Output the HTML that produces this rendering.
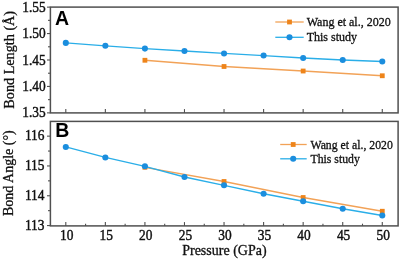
<!DOCTYPE html>
<html><head><meta charset="utf-8"><style>
html,body{margin:0;padding:0;background:#fff;width:400px;height:259px;overflow:hidden}
svg{display:block;filter:blur(0.3px)}
.t{font-family:"Liberation Serif",serif;font-size:13.4px;fill:#111;stroke:#111;stroke-width:0.4px}
.lg{font-family:"Liberation Serif",serif;fill:#111;stroke:#111;stroke-width:0.3px}
.ti{font-family:"Liberation Serif",serif;font-size:14px;fill:#111;stroke:#111;stroke-width:0.3px}
.pl{font-family:"Liberation Sans",sans-serif;font-weight:bold;font-size:19.5px;fill:#000}
</style></head><body>
<svg width="400" height="259" viewBox="0 0 400 259">
<rect width="400" height="259" fill="#fff"/>
<rect x="50.4" y="7.1" width="347.70000000000005" height="105.80000000000001" fill="none" stroke="#505050" stroke-width="1.5"/>
<rect x="50.4" y="121.4" width="347.70000000000005" height="104.5" fill="none" stroke="#505050" stroke-width="1.5"/>
<line x1="65.80" y1="112.9" x2="65.80" y2="109.10000000000001" stroke="#505050" stroke-width="1.1"/>
<line x1="65.80" y1="225.9" x2="65.80" y2="222.1" stroke="#505050" stroke-width="1.1"/>
<text transform="translate(66.70,240.4) scale(1,1.12)" class="t" text-anchor="middle">10</text>
<line x1="105.36" y1="112.9" x2="105.36" y2="109.10000000000001" stroke="#505050" stroke-width="1.1"/>
<line x1="105.36" y1="225.9" x2="105.36" y2="222.1" stroke="#505050" stroke-width="1.1"/>
<text transform="translate(106.26,240.4) scale(1,1.12)" class="t" text-anchor="middle">15</text>
<line x1="144.92" y1="112.9" x2="144.92" y2="109.10000000000001" stroke="#505050" stroke-width="1.1"/>
<line x1="144.92" y1="225.9" x2="144.92" y2="222.1" stroke="#505050" stroke-width="1.1"/>
<text transform="translate(145.82,240.4) scale(1,1.12)" class="t" text-anchor="middle">20</text>
<line x1="184.48" y1="112.9" x2="184.48" y2="109.10000000000001" stroke="#505050" stroke-width="1.1"/>
<line x1="184.48" y1="225.9" x2="184.48" y2="222.1" stroke="#505050" stroke-width="1.1"/>
<text transform="translate(185.38,240.4) scale(1,1.12)" class="t" text-anchor="middle">25</text>
<line x1="224.04" y1="112.9" x2="224.04" y2="109.10000000000001" stroke="#505050" stroke-width="1.1"/>
<line x1="224.04" y1="225.9" x2="224.04" y2="222.1" stroke="#505050" stroke-width="1.1"/>
<text transform="translate(224.94,240.4) scale(1,1.12)" class="t" text-anchor="middle">30</text>
<line x1="263.60" y1="112.9" x2="263.60" y2="109.10000000000001" stroke="#505050" stroke-width="1.1"/>
<line x1="263.60" y1="225.9" x2="263.60" y2="222.1" stroke="#505050" stroke-width="1.1"/>
<text transform="translate(264.50,240.4) scale(1,1.12)" class="t" text-anchor="middle">35</text>
<line x1="303.16" y1="112.9" x2="303.16" y2="109.10000000000001" stroke="#505050" stroke-width="1.1"/>
<line x1="303.16" y1="225.9" x2="303.16" y2="222.1" stroke="#505050" stroke-width="1.1"/>
<text transform="translate(304.06,240.4) scale(1,1.12)" class="t" text-anchor="middle">40</text>
<line x1="342.72" y1="112.9" x2="342.72" y2="109.10000000000001" stroke="#505050" stroke-width="1.1"/>
<line x1="342.72" y1="225.9" x2="342.72" y2="222.1" stroke="#505050" stroke-width="1.1"/>
<text transform="translate(343.62,240.4) scale(1,1.12)" class="t" text-anchor="middle">45</text>
<line x1="382.28" y1="112.9" x2="382.28" y2="109.10000000000001" stroke="#505050" stroke-width="1.1"/>
<line x1="382.28" y1="225.9" x2="382.28" y2="222.1" stroke="#505050" stroke-width="1.1"/>
<text transform="translate(383.18,240.4) scale(1,1.12)" class="t" text-anchor="middle">50</text>
<line x1="85.58" y1="225.9" x2="85.58" y2="223.70000000000002" stroke="#505050" stroke-width="1.1"/>
<line x1="125.14" y1="225.9" x2="125.14" y2="223.70000000000002" stroke="#505050" stroke-width="1.1"/>
<line x1="164.70" y1="225.9" x2="164.70" y2="223.70000000000002" stroke="#505050" stroke-width="1.1"/>
<line x1="204.26" y1="225.9" x2="204.26" y2="223.70000000000002" stroke="#505050" stroke-width="1.1"/>
<line x1="243.82" y1="225.9" x2="243.82" y2="223.70000000000002" stroke="#505050" stroke-width="1.1"/>
<line x1="283.38" y1="225.9" x2="283.38" y2="223.70000000000002" stroke="#505050" stroke-width="1.1"/>
<line x1="322.94" y1="225.9" x2="322.94" y2="223.70000000000002" stroke="#505050" stroke-width="1.1"/>
<line x1="362.50" y1="225.9" x2="362.50" y2="223.70000000000002" stroke="#505050" stroke-width="1.1"/>
<line x1="50.4" y1="112.86" x2="47.0" y2="112.86" stroke="#505050" stroke-width="1.1"/>
<text transform="translate(45.7,117.46) scale(1,1.12)" class="t" text-anchor="end">1.35</text>
<line x1="50.4" y1="86.43" x2="47.0" y2="86.43" stroke="#505050" stroke-width="1.1"/>
<text transform="translate(45.7,91.03) scale(1,1.12)" class="t" text-anchor="end">1.40</text>
<line x1="50.4" y1="60.00" x2="47.0" y2="60.00" stroke="#505050" stroke-width="1.1"/>
<text transform="translate(45.7,64.60) scale(1,1.12)" class="t" text-anchor="end">1.45</text>
<line x1="50.4" y1="33.57" x2="47.0" y2="33.57" stroke="#505050" stroke-width="1.1"/>
<text transform="translate(45.7,38.17) scale(1,1.12)" class="t" text-anchor="end">1.50</text>
<line x1="50.4" y1="7.14" x2="47.0" y2="7.14" stroke="#505050" stroke-width="1.1"/>
<text transform="translate(45.7,11.74) scale(1,1.12)" class="t" text-anchor="end">1.55</text>
<line x1="50.4" y1="99.65" x2="48.0" y2="99.65" stroke="#505050" stroke-width="1.1"/>
<line x1="50.4" y1="73.22" x2="48.0" y2="73.22" stroke="#505050" stroke-width="1.1"/>
<line x1="50.4" y1="46.79" x2="48.0" y2="46.79" stroke="#505050" stroke-width="1.1"/>
<line x1="50.4" y1="20.35" x2="48.0" y2="20.35" stroke="#505050" stroke-width="1.1"/>
<line x1="50.4" y1="225.56" x2="47.0" y2="225.56" stroke="#505050" stroke-width="1.1"/>
<text transform="translate(44.5,229.66) scale(1,1.12)" class="t" text-anchor="end">113</text>
<line x1="50.4" y1="195.76" x2="47.0" y2="195.76" stroke="#505050" stroke-width="1.1"/>
<text transform="translate(44.5,199.86) scale(1,1.12)" class="t" text-anchor="end">114</text>
<line x1="50.4" y1="165.95" x2="47.0" y2="165.95" stroke="#505050" stroke-width="1.1"/>
<text transform="translate(44.5,170.05) scale(1,1.12)" class="t" text-anchor="end">115</text>
<line x1="50.4" y1="136.15" x2="47.0" y2="136.15" stroke="#505050" stroke-width="1.1"/>
<text transform="translate(44.5,140.25) scale(1,1.12)" class="t" text-anchor="end">116</text>
<line x1="50.4" y1="210.66" x2="48.0" y2="210.66" stroke="#505050" stroke-width="1.1"/>
<line x1="50.4" y1="180.85" x2="48.0" y2="180.85" stroke="#505050" stroke-width="1.1"/>
<line x1="50.4" y1="151.05" x2="48.0" y2="151.05" stroke="#505050" stroke-width="1.1"/>
<polyline points="144.92,60.27 224.04,66.49 303.16,71.02 382.28,75.76" fill="none" stroke="#f2a257" stroke-width="1.3"/>
<rect x="142.52" y="57.87" width="4.8" height="4.8" fill="#ee841a"/>
<rect x="221.64" y="64.09" width="4.8" height="4.8" fill="#ee841a"/>
<rect x="300.76" y="68.62" width="4.8" height="4.8" fill="#ee841a"/>
<rect x="379.88" y="73.36" width="4.8" height="4.8" fill="#ee841a"/>
<polyline points="65.80,42.88 105.36,45.78 144.92,48.62 184.48,50.99 224.04,53.47 263.60,55.53 303.16,58.00 342.72,60.01 382.28,61.48" fill="none" stroke="#2aaee8" stroke-width="1.3"/>
<circle cx="65.80" cy="42.88" r="3.05" fill="#1b8ede"/>
<circle cx="105.36" cy="45.78" r="3.05" fill="#1b8ede"/>
<circle cx="144.92" cy="48.62" r="3.05" fill="#1b8ede"/>
<circle cx="184.48" cy="50.99" r="3.05" fill="#1b8ede"/>
<circle cx="224.04" cy="53.47" r="3.05" fill="#1b8ede"/>
<circle cx="263.60" cy="55.53" r="3.05" fill="#1b8ede"/>
<circle cx="303.16" cy="58.00" r="3.05" fill="#1b8ede"/>
<circle cx="342.72" cy="60.01" r="3.05" fill="#1b8ede"/>
<circle cx="382.28" cy="61.48" r="3.05" fill="#1b8ede"/>
<polyline points="144.92,167.29 224.04,181.50 303.16,197.51 382.28,211.25" fill="none" stroke="#f2a257" stroke-width="1.3"/>
<rect x="142.52" y="164.89" width="4.8" height="4.8" fill="#ee841a"/>
<rect x="221.64" y="179.10" width="4.8" height="4.8" fill="#ee841a"/>
<rect x="300.76" y="195.11" width="4.8" height="4.8" fill="#ee841a"/>
<rect x="379.88" y="208.85" width="4.8" height="4.8" fill="#ee841a"/>
<polyline points="65.80,146.99 105.36,157.49 144.92,166.26 184.48,177.00 224.04,185.29 263.60,193.75 303.16,201.24 342.72,208.76 382.28,215.51" fill="none" stroke="#2aaee8" stroke-width="1.3"/>
<circle cx="65.80" cy="146.99" r="3.05" fill="#1b8ede"/>
<circle cx="105.36" cy="157.49" r="3.05" fill="#1b8ede"/>
<circle cx="144.92" cy="166.26" r="3.05" fill="#1b8ede"/>
<circle cx="184.48" cy="177.00" r="3.05" fill="#1b8ede"/>
<circle cx="224.04" cy="185.29" r="3.05" fill="#1b8ede"/>
<circle cx="263.60" cy="193.75" r="3.05" fill="#1b8ede"/>
<circle cx="303.16" cy="201.24" r="3.05" fill="#1b8ede"/>
<circle cx="342.72" cy="208.76" r="3.05" fill="#1b8ede"/>
<circle cx="382.28" cy="215.51" r="3.05" fill="#1b8ede"/>
<line x1="275.3" y1="22" x2="303.7" y2="22" stroke="#f2a257" stroke-width="1.3"/>
<rect x="287.1" y="19.6" width="4.8" height="4.8" fill="#ee841a"/>
<text x="306.7" y="26.1" class="lg" style="font-size:12px">Wang et al., 2020</text>
<line x1="275.3" y1="37.3" x2="303.7" y2="37.3" stroke="#2aaee8" stroke-width="1.3"/>
<circle cx="289.5" cy="37.3" r="3.05" fill="#1b8ede"/>
<text x="306.7" y="41.4" class="lg" style="font-size:12px">This study</text>
<line x1="280.2" y1="144.5" x2="306.7" y2="144.5" stroke="#f2a257" stroke-width="1.3"/>
<rect x="290.8" y="142.1" width="4.8" height="4.8" fill="#ee841a"/>
<text x="310.5" y="148.6" class="lg" style="font-size:11.75px">Wang et al., 2020</text>
<line x1="280.2" y1="158.8" x2="306.7" y2="158.8" stroke="#2aaee8" stroke-width="1.3"/>
<circle cx="293.2" cy="158.8" r="3.05" fill="#1b8ede"/>
<text x="310.5" y="162.9" class="lg" style="font-size:11.75px">This study</text>
<text x="55" y="24.5" class="pl">A</text>
<text x="55.2" y="137.2" class="pl">B</text>
<text x="224.4" y="255.3" class="ti" text-anchor="middle">Pressure (GPa)</text>
<text transform="translate(13.6,59.8) rotate(-90) scale(1.015,1)" class="ti" text-anchor="middle">Bond Length (Å)</text>
<text transform="translate(13.2,173.2) rotate(-90)" class="ti" text-anchor="middle">Bond Angle (°)</text>
</svg>
</body></html>
